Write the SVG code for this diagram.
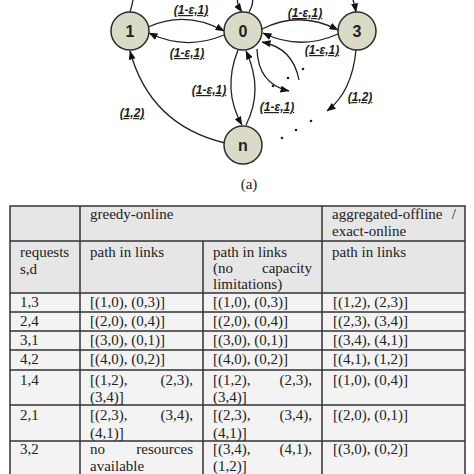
<svg xmlns="http://www.w3.org/2000/svg" width="474" height="474" viewBox="0 0 474 474">
<defs>
<marker id="ah" markerWidth="9" markerHeight="7" refX="8.5" refY="3.5" orient="auto" markerUnits="userSpaceOnUse">
<path d="M0,0 L9,3.5 L0,7 Z" fill="#111"/>
</marker>
<style>
.node circle{fill:#d9dbc7;stroke:#2a2a2a;stroke-width:1.5}
.node text{font-family:"Liberation Sans",Arial,sans-serif;font-weight:bold;font-size:16px;fill:#222;text-anchor:middle}
.edge{fill:none;stroke:#222;stroke-width:1.3}
.arr{marker-end:url(#ah)}
.lbl{font-family:"Liberation Sans",Arial,sans-serif;font-style:italic;font-weight:bold;font-size:12px;fill:#222;text-anchor:middle;text-decoration:underline}
.dot{fill:#222}
.t{font-family:"Liberation Serif","Times New Roman",serif;font-size:15px;fill:#222}
.e{text-anchor:end}
.hdr{fill:#e6e6e6}
.dat{fill:#f3f3f3}
.grid{stroke:#333;stroke-width:1.5;fill:none}
</style>
</defs>
<rect width="474" height="474" fill="#fff"/>

<g id="connectors">
<path class="edge" d="M133 0 Q132 6 130 12"/>
<path class="edge arr" d="M249 12 C256 0 252 -8 244 -8 C236 -8 235 2 242 12"/>
<path class="edge arr" d="M353 0 Q355 6 356 12"/>
<path class="edge arr" d="M148 27 Q186 10 224 31"/>
<path class="edge arr" d="M224 35 Q186 51 149 33"/>
<path class="edge arr" d="M262 29 Q300 10 338 30"/>
<path class="edge arr" d="M338 34 Q300 51 263 33"/>
<path class="edge arr" d="M299 80 Q293 48 262 42"/>
<path class="edge arr" d="M238 50 Q222 90 242 125"/>
<path class="edge arr" d="M246 125 Q264 90 246 51"/>
<path class="edge arr" d="M257 49 Q258 84 289 91"/>
<path class="edge arr" d="M356 50 Q352 92 327 111"/>
<path class="edge arr" d="M225 143 Q150 125 130 51"/>
<text class="lbl" x="191" y="14">(1-ε,1)</text>
<text class="lbl" x="187" y="57">(1-ε,1)</text>
<text class="lbl" x="305" y="17">(1-ε,1)</text>
<text class="lbl" x="322" y="54">(1-ε,1)</text>
<text class="lbl" x="209" y="94">(1-ε,1)</text>
<text class="lbl" x="277" y="111">(1-ε,1)</text>
<text class="lbl" x="360" y="101">(1,2)</text>
<text class="lbl" x="132" y="117">(1,2)</text>
<circle class="dot" cx="303" cy="69" r="1.3"/>
<circle class="dot" cx="288" cy="78" r="1.3"/>
<circle class="dot" cx="273" cy="86" r="1.3"/>
<circle class="dot" cx="311" cy="121" r="1.3"/>
<circle class="dot" cx="296" cy="130" r="1.3"/>
<circle class="dot" cx="282" cy="138" r="1.3"/>
</g>

<g id="node-1" class="node"><circle cx="130" cy="31" r="19"/><text x="130" y="37">1</text></g>
<g id="node-0" class="node"><circle cx="243" cy="31" r="19"/><text x="243" y="37">0</text></g>
<g id="node-3" class="node"><circle cx="357" cy="31" r="19"/><text x="357" y="37">3</text></g>
<g id="node-n" class="node"><circle cx="243" cy="145" r="19"/><text x="243" y="151">n</text></g>

<text class="t" x="249" y="189" text-anchor="middle" font-size="14">(a)</text>

<g id="table">
<rect class="hdr" x="10" y="206" width="455" height="87"/>
<rect class="dat" x="10" y="293" width="455" height="181"/>
<path class="grid" d="M10 474 V206 H465 V474 M10 241 H465 M10 293 H465 M10 312 H465 M10 331 H465 M10 350 H465 M10 370 H465 M10 405 H465 M10 441 H465 M80 206 V474 M322 206 V474 M203 241 V474"/>
<text class="t" x="90" y="219">greedy-online</text>
<text class="t" x="332" y="219">aggregated-offline</text>
<text class="t e" x="456" y="219">/</text>
<text class="t" x="332" y="236">exact-online</text>
<text class="t" x="20" y="257">requests</text>
<text class="t" x="20" y="274">s,d</text>
<text class="t" x="90" y="257">path in links</text>
<text class="t" x="213" y="257">path in links</text>
<text class="t" x="213" y="273">(no</text>
<text class="t e" x="312" y="273">capacity</text>
<text class="t" x="213" y="289">limitations)</text>
<text class="t" x="332" y="257">path in links</text>

<text class="t" x="20" y="307">1,3</text>
<text class="t" x="90" y="307">[(1,0), (0,3)]</text>
<text class="t" x="213" y="307">[(1,0), (0,3)]</text>
<text class="t" x="333" y="307">[(1,2), (2,3)]</text>

<text class="t" x="20" y="326">2,4</text>
<text class="t" x="90" y="326">[(2,0), (0,4)]</text>
<text class="t" x="213" y="326">[(2,0), (0,4)]</text>
<text class="t" x="333" y="326">[(2,3), (3,4)]</text>

<text class="t" x="20" y="345">3,1</text>
<text class="t" x="90" y="345">[(3,0), (0,1)]</text>
<text class="t" x="213" y="345">[(3,0), (0,1)]</text>
<text class="t" x="333" y="345">[(3,4), (4,1)]</text>

<text class="t" x="20" y="364">4,2</text>
<text class="t" x="90" y="364">[(4,0), (0,2)]</text>
<text class="t" x="213" y="364">[(4,0), (0,2)]</text>
<text class="t" x="333" y="364">[(4,1), (1,2)]</text>

<text class="t" x="20" y="385">1,4</text>
<text class="t" x="90" y="385">[(1,2),</text>
<text class="t e" x="193" y="385">(2,3),</text>
<text class="t" x="90" y="402">(3,4)]</text>
<text class="t" x="213" y="385">[(1,2),</text>
<text class="t e" x="312" y="385">(2,3),</text>
<text class="t" x="213" y="402">(3,4)]</text>
<text class="t" x="333" y="385">[(1,0), (0,4)]</text>

<text class="t" x="20" y="420">2,1</text>
<text class="t" x="90" y="420">[(2,3),</text>
<text class="t e" x="193" y="420">(3,4),</text>
<text class="t" x="90" y="438">(4,1)]</text>
<text class="t" x="213" y="420">[(2,3),</text>
<text class="t e" x="312" y="420">(3,4),</text>
<text class="t" x="213" y="438">(4,1)]</text>
<text class="t" x="333" y="420">[(2,0), (0,1)]</text>

<text class="t" x="20" y="454">3,2</text>
<text class="t" x="90" y="454">no</text>
<text class="t e" x="193" y="454">resources</text>
<text class="t" x="90" y="471">available</text>
<text class="t" x="213" y="454">[(3,4),</text>
<text class="t e" x="312" y="454">(4,1),</text>
<text class="t" x="213" y="471">(1,2)]</text>
<text class="t" x="333" y="454">[(3,0), (0,2)]</text>
</g>
</svg>
